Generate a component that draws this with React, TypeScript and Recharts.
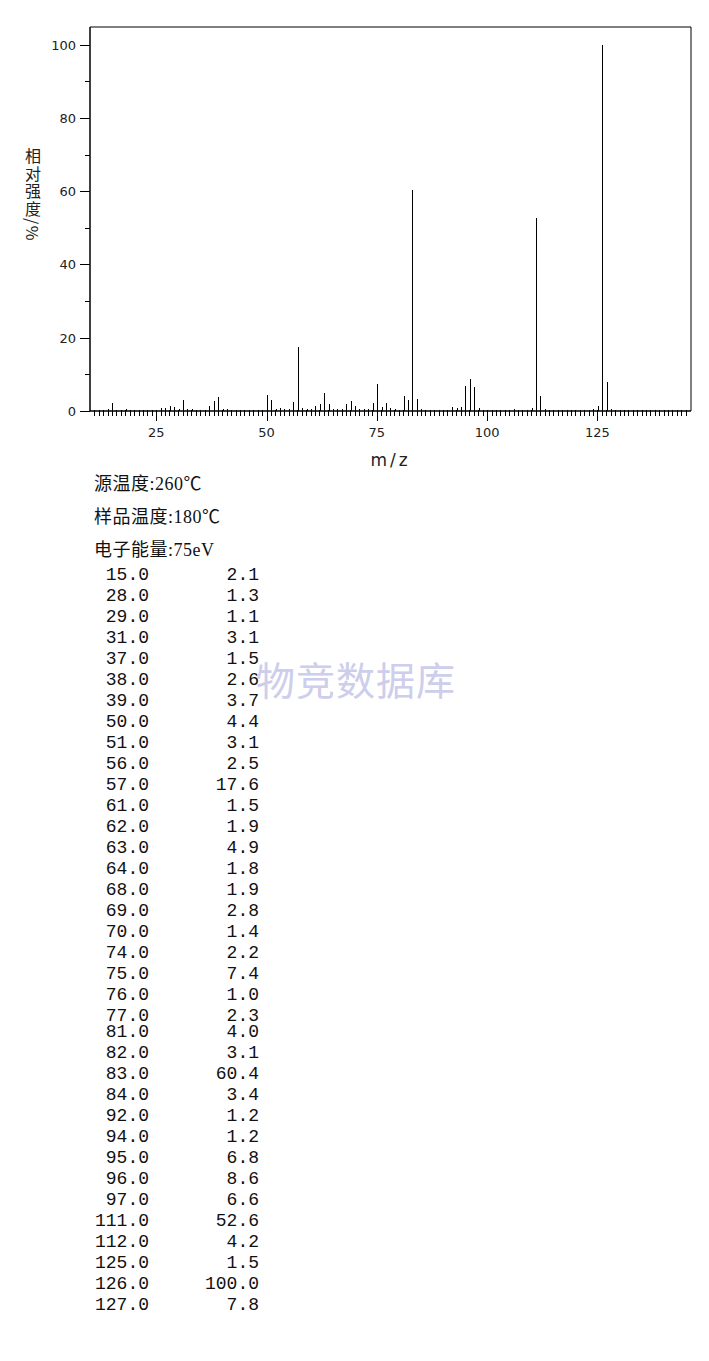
import React from 'react'
import { ComposedChart, Bar, XAxis, YAxis, ReferenceArea } from 'recharts'

// peaks listed in the table (m/z, relative intensity %)
const tableMz = [15, 28, 29, 31, 37, 38, 39, 50, 51, 56, 57, 61, 62, 63, 64, 68, 69, 70, 74, 75, 76, 77,
  81, 82, 83, 84, 92, 94, 95, 96, 97, 111, 112, 125, 126, 127]
const tableRel = [2.1, 1.3, 1.1, 3.1, 1.5, 2.6, 3.7, 4.4, 3.1, 2.5, 17.6, 1.5, 1.9, 4.9, 1.8, 1.9, 2.8, 1.4, 2.2, 7.4, 1.0, 2.3,
  4.0, 3.1, 60.4, 3.4, 1.2, 1.2, 6.8, 8.6, 6.6, 52.6, 4.2, 1.5, 100.0, 7.8]

// small peaks visible in the plot but below 1% (estimated)
const minorMz = [14, 18, 26, 27, 30, 32, 33, 40, 41, 42, 52, 53, 54, 55, 58, 59, 60, 65, 66, 67, 71, 72, 73,
  78, 79, 85, 93, 98, 106, 110, 113, 124, 128]
const minorRel = [0.6, 0.5, 0.8, 0.9, 0.6, 0.5, 0.5, 0.5, 0.5, 0.4, 0.6, 0.7, 0.5, 0.6, 0.8, 0.5, 0.5, 0.6, 0.5, 0.5, 0.5, 0.5, 0.6,
  0.8, 0.5, 0.5, 0.7, 0.8, 0.5, 0.9, 0.5, 0.5, 0.6]

const xLabels = [25, 50, 75, 100, 125]
const yLabels = [0, 20, 40, 60, 80, 100]
const yTicks = [0, 10, 20, 30, 40, 50, 60, 70, 80, 90, 100]
const xMin = 10
const xMax = 146.2
const yMax = 104.8

const infoLines = ['源温度:260℃', '样品温度:180℃', '电子能量:75eV']

const data = [
  ...tableMz.map((mz, i) => ({ mz, rel: tableRel[i] })),
  ...minorMz.map((mz, i) => ({ mz, rel: minorRel[i] })),
].sort((a, b) => a.mz - b.mz)

const xTicks: number[] = []
for (let m = 11; m <= 145; m++) xTicks.push(m)

const axisFont = '"DejaVu Sans", Verdana, sans-serif'

const XTick = (p: any) => {
  const v = p.payload.value
  const major = xLabels.includes(v)
  const x = Math.round(p.x) + 0.5
  return (
    <g>
      <line x1={x} x2={x} y1={p.y - 1} y2={p.y + (major ? 10 : 5)} stroke="#000" shapeRendering="crispEdges" />
      {major && (
        <text x={p.x} y={p.y + 26} textAnchor="middle" fontSize={13} fontFamily={axisFont} fill="#222">{v}</text>
      )}
    </g>
  )
}

const YTick = (p: any) => {
  const v = p.payload.value
  const major = yLabels.includes(v)
  const y = Math.round(p.y) + 0.5
  return (
    <g>
      <line x1={p.x} x2={p.x - (major ? 10 : 5)} y1={y} y2={y} stroke="#000" shapeRendering="crispEdges" />
      {major && (
        <text x={p.x - 14} y={p.y + 5} textAnchor="end" fontSize={13} fontFamily={axisFont} fill="#222">{v}</text>
      )}
    </g>
  )
}

const Peak = (p: any) => (
  <rect x={Math.round(p.x + p.width / 2)} y={p.y} width={1} height={p.height} fill="#000" shapeRendering="crispEdges" />
)

export default function App() {
  return (
    <div style={{ position: 'relative', width: 701, height: 1345 }}>
      <ComposedChart width={700} height={470} data={data} margin={{ top: 19, right: 17, left: 0, bottom: 37 }}>
        <XAxis
          dataKey="mz" type="number" domain={[xMin, xMax]} ticks={xTicks} interval={0}
          tickSize={0} tickMargin={0} tickLine={false} tick={<XTick />} height={30}
          axisLine={{ stroke: '#000' }} allowDataOverflow
          label={{ value: 'm/z', position: 'bottom', offset: 13, fontSize: 17, fontFamily: axisFont, fill: '#222', letterSpacing: 3 }}
        />
        <YAxis
          type="number" domain={[0, yMax]} ticks={yTicks} interval={0} width={82}
          tickSize={0} tickMargin={0} tickLine={false} tick={<YTick />}
          axisLine={{ stroke: '#000' }} allowDataOverflow
        />
        <ReferenceArea x1={xMin} x2={xMax} y1={0} y2={yMax} fill="none" stroke="#000" ifOverflow="visible" />
        <Bar dataKey="rel" barSize={1} shape={<Peak />} isAnimationActive={false} />
      </ComposedChart>

      <div style={{
        position: 'absolute', left: 16, top: 140, writingMode: 'vertical-rl',
        fontFamily: '"Noto Sans CJK SC", sans-serif', fontSize: 16, letterSpacing: 1.5, color: '#222', lineHeight: '18px'
      }}>相对强度/%</div>

      {infoLines.map((t, i) => (
        <div key={t} style={{
          position: 'absolute', left: 86, top: 460 + i * 33, height: 33, lineHeight: '33px', whiteSpace: 'nowrap',
          fontFamily: '"Liberation Serif", "Noto Sans CJK SC", serif', fontSize: 18, letterSpacing: 0.5, color: '#111'
        }}>{t}</div>
      ))}

      <div style={{ position: 'absolute', left: 0, top: 557, fontFamily: '"Liberation Mono", "DejaVu Sans Mono", monospace', fontSize: 18, color: '#111' }}>
        {tableMz.map((mz, i) => (
          <div key={mz} style={{
            display: 'flex', boxSizing: 'border-box', height: i === 21 ? 16 : 21, paddingTop: 4,
            lineHeight: '13px'
          }}>
            <span style={{ width: 141, textAlign: 'right' }}>{mz.toFixed(1)}</span>
            <span style={{ width: 110, textAlign: 'right' }}>{tableRel[i].toFixed(1)}</span>
          </div>
        ))}
      </div>

      <div style={{
        position: 'absolute', left: 248, top: 651, fontFamily: '"Noto Sans CJK SC", sans-serif', fontSize: 39,
        letterSpacing: 1, lineHeight: '39px', color: '#c8c8ea', whiteSpace: 'nowrap', opacity: 0.9
      }}>物竞数据库</div>
    </div>
  )
}
